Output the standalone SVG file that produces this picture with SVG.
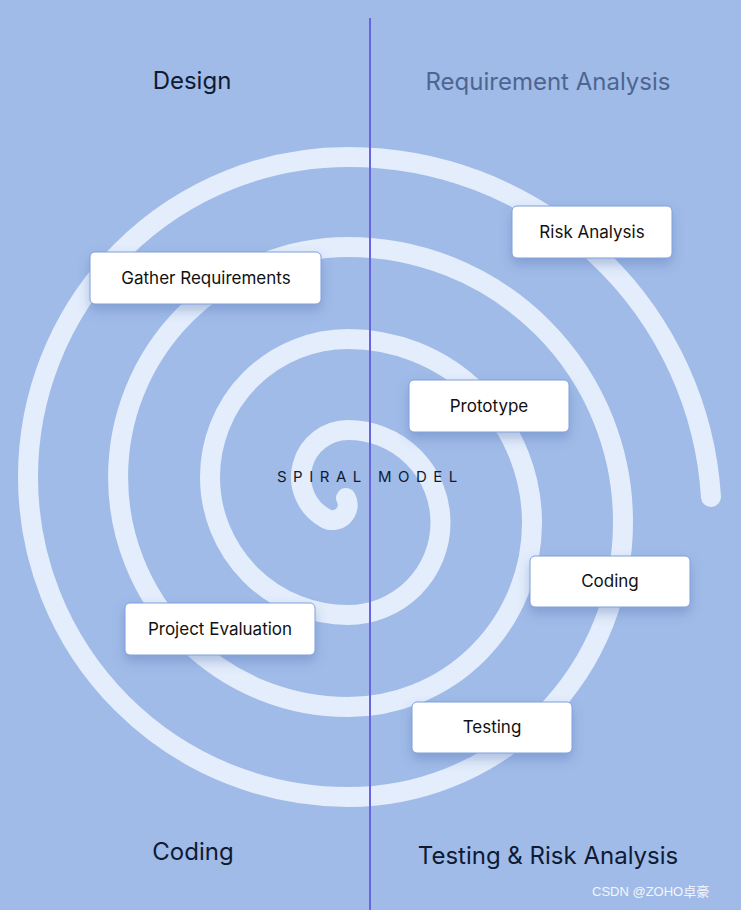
<svg xmlns="http://www.w3.org/2000/svg" width="741" height="910" viewBox="0 0 741 910">
<defs>
<filter id="sh" x="-20%" y="-30%" width="140%" height="180%"><feDropShadow dx="0" dy="6" stdDeviation="6" flood-color="#4a67a8" flood-opacity="0.35"/></filter>
<style>
.box{fill:#fff;stroke:#7f9fdc;stroke-width:1;filter:url(#sh)}
.bt{font-family:Inter,"Liberation Sans",sans-serif;font-size:17px;fill:#111;text-anchor:middle}
.tt{font-family:Inter,"Liberation Sans",sans-serif;font-size:24px;text-anchor:middle}
</style>
</defs>
<rect width="741" height="910" fill="#a0bbe8"/>
<g id="connectors">
<path d="M346,498 A15.1,15.1 0 0 1 324.5,517.7 A47,47 0 0 1 348,430 A92.5,92.5 0 0 1 348,615 A138,138 0 0 1 348,339 A184,184 0 0 1 348,707 A230,230 0 0 1 348,247 A275,275 0 0 1 348,797 A320,320 0 0 1 348,157 A363,363 0 0 1 711,497" fill="none" stroke="#e3edfb" stroke-width="20" stroke-linecap="round"/>
<line x1="370" y1="18" x2="370" y2="910" stroke="#6a64e0" stroke-width="2"/>
</g>
<text class="tt" x="192" y="89" fill="#0f1a33">Design</text>
<text class="tt" x="548" y="90" fill="#4e6590">Requirement Analysis</text>
<text class="tt" x="193" y="860" fill="#0f1a33">Coding</text>
<text class="tt" x="548" y="864" fill="#0f1a33">Testing &amp; Risk Analysis</text>
<text x="277" y="482" font-family="Inter,'Liberation Sans',sans-serif" font-size="15" letter-spacing="6.5" fill="#0f1a33">SPIRAL</text>
<text x="378" y="482" font-family="Inter,'Liberation Sans',sans-serif" font-size="15" letter-spacing="6.5" fill="#0f1a33">MODEL</text>
<g id="risk"><rect class="box" x="512" y="206" width="160" height="52" rx="5"/><text class="bt" x="592" y="238">Risk Analysis</text></g>
<g id="gather"><rect class="box" x="90" y="252" width="231" height="52" rx="5"/><text class="bt" x="206" y="284">Gather Requirements</text></g>
<g id="prototype"><rect class="box" x="409" y="380" width="160" height="52" rx="5"/><text class="bt" x="489" y="412">Prototype</text></g>
<g id="coding"><rect class="box" x="530" y="556" width="160" height="51" rx="5"/><text class="bt" x="610" y="587">Coding</text></g>
<g id="evaluation"><rect class="box" x="125" y="603" width="190" height="52" rx="5"/><text class="bt" x="220" y="635">Project Evaluation</text></g>
<g id="testing"><rect class="box" x="412" y="702" width="160" height="51" rx="5"/><text class="bt" x="492" y="733">Testing</text></g>
<text x="592" y="896" font-family="'Liberation Sans','Noto Sans CJK SC',sans-serif" font-size="13" fill="#f4f6fb">CSDN @ZOHO卓豪</text>
</svg>
